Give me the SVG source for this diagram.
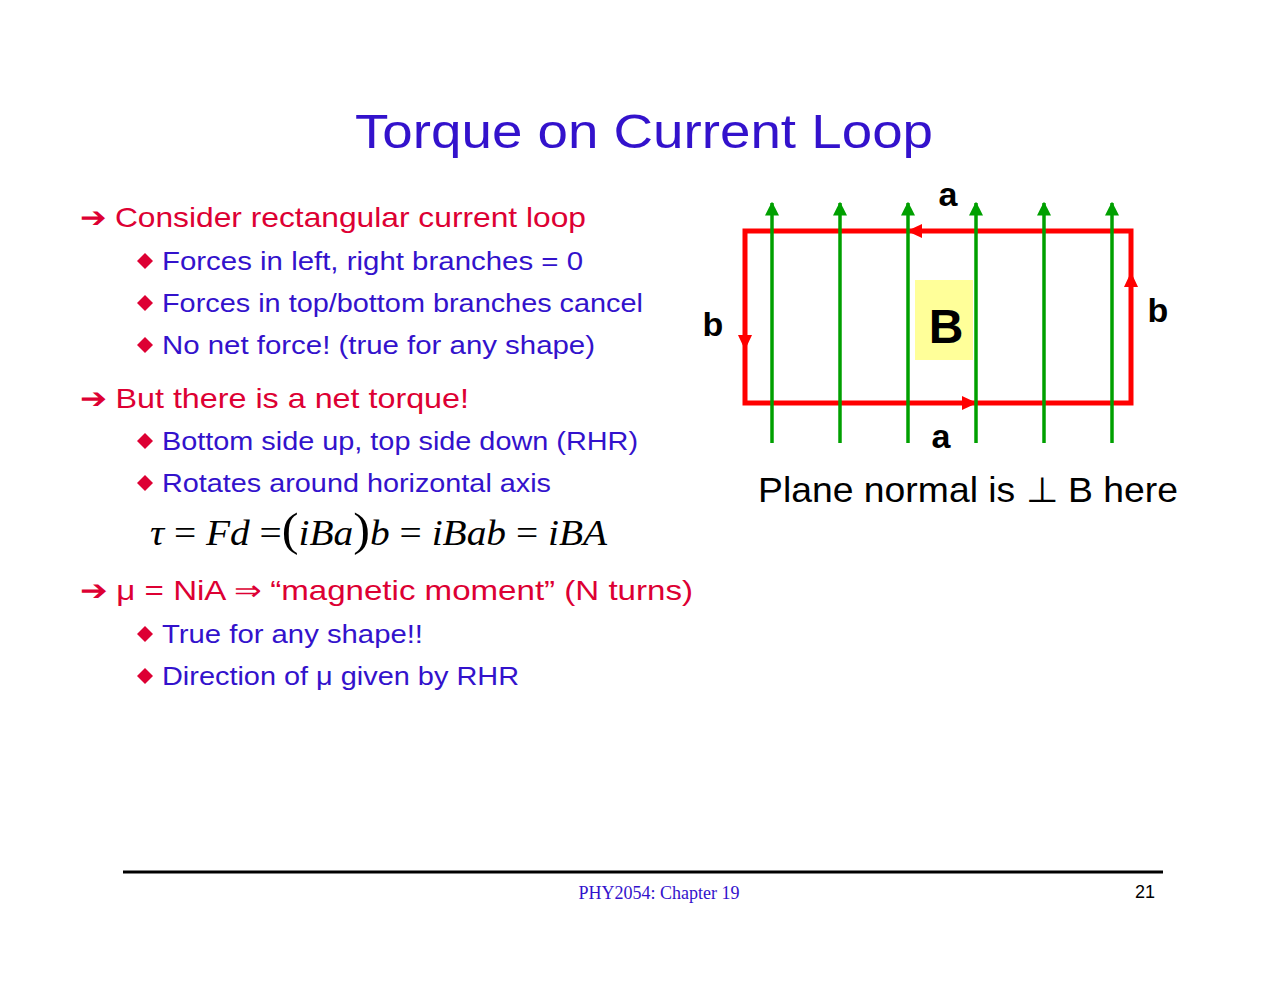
<svg xmlns="http://www.w3.org/2000/svg" width="1280" height="989" viewBox="0 0 1280 989">
<style>
text{font-family:"Liberation Sans",Arial,sans-serif}
.t{fill:#3312cc;font-size:49px}
.r{fill:#dd0033;font-size:28px}
.bl{fill:#3312cc;font-size:26px}
.dm{fill:#dd0033}
.lb{font-weight:bold;font-size:34px;fill:#000}
.g{stroke:#00a000;stroke-width:3.5;fill:none}
.eq{font-family:"Liberation Serif","Times New Roman",serif;font-style:italic;font-size:36px;fill:#000}
</style>
<defs>
<marker id="ga" viewBox="0 0 10 10" refX="9" refY="5" markerWidth="14" markerHeight="14" orient="auto" markerUnits="userSpaceOnUse"><path d="M0,0L10,5L0,10z" fill="#00a000"/></marker>
<path id="dia" d="M0,-8L8,0L0,8L-8,0z"/>
</defs>
<rect width="1280" height="989" fill="#fff"/>
<text class="t" x="355" y="148" textLength="578" lengthAdjust="spacingAndGlyphs">Torque on Current Loop</text>
<g id="text">
<text class="r" x="80" y="227" textLength="506" lengthAdjust="spacingAndGlyphs">➔ Consider rectangular current loop</text>
<use href="#dia" x="145" y="261" class="dm"/><text class="bl" x="162" y="270" textLength="421" lengthAdjust="spacingAndGlyphs">Forces in left, right branches = 0</text>
<use href="#dia" x="145" y="303" class="dm"/><text class="bl" x="162" y="312" textLength="481" lengthAdjust="spacingAndGlyphs">Forces in top/bottom branches cancel</text>
<use href="#dia" x="145" y="345" class="dm"/><text class="bl" x="162" y="354" textLength="433" lengthAdjust="spacingAndGlyphs">No net force! (true for any shape)</text>
<text class="r" x="80" y="408" textLength="389" lengthAdjust="spacingAndGlyphs">➔ But there is a net torque!</text>
<use href="#dia" x="145" y="441" class="dm"/><text class="bl" x="162" y="450" textLength="476" lengthAdjust="spacingAndGlyphs">Bottom side up, top side down (RHR)</text>
<use href="#dia" x="145" y="483" class="dm"/><text class="bl" x="162" y="492" textLength="389" lengthAdjust="spacingAndGlyphs">Rotates around horizontal axis</text>
<text class="eq" x="150" y="545" textLength="457" lengthAdjust="spacingAndGlyphs"><tspan>τ</tspan><tspan font-style="normal"> = </tspan>Fd<tspan font-style="normal"> =</tspan><tspan font-style="normal" style="font-size:46px">(</tspan>iBa<tspan font-style="normal" style="font-size:46px">)</tspan>b<tspan font-style="normal"> = </tspan>iBab<tspan font-style="normal"> = </tspan>iBA</text>
<text class="r" x="80" y="600" textLength="613" lengthAdjust="spacingAndGlyphs">➔ μ =  NiA ⇒ “magnetic moment” (N turns)</text>
<use href="#dia" x="145" y="634" class="dm"/><text class="bl" x="162" y="643" textLength="261" lengthAdjust="spacingAndGlyphs">True for any shape!!</text>
<use href="#dia" x="145" y="676" class="dm"/><text class="bl" x="162" y="685" textLength="357" lengthAdjust="spacingAndGlyphs">Direction of μ given by RHR</text>
</g>
<g id="loop">
<rect x="915" y="280" width="58" height="80" fill="#ffff99"/>
<text class="lb" x="946" y="343" text-anchor="middle" style="font-size:48px">B</text>
<rect x="745" y="231" width="386" height="172" fill="none" stroke="#ff0000" stroke-width="5"/>
<path d="M907,231L922,224L922,238z" fill="#ff0000"/>
<path d="M977,403L962,396L962,410z" fill="#ff0000"/>
<path d="M745,350L738,335L752,335z" fill="#ff0000"/>
<path d="M1131,272L1124,287L1138,287z" fill="#ff0000"/>
</g>
<g id="connectors">
<line class="g" x1="772" y1="443" x2="772" y2="203" marker-end="url(#ga)"/>
<line class="g" x1="840" y1="443" x2="840" y2="203" marker-end="url(#ga)"/>
<line class="g" x1="908" y1="443" x2="908" y2="203" marker-end="url(#ga)"/>
<line class="g" x1="976" y1="443" x2="976" y2="203" marker-end="url(#ga)"/>
<line class="g" x1="1044" y1="443" x2="1044" y2="203" marker-end="url(#ga)"/>
<line class="g" x1="1112" y1="443" x2="1112" y2="203" marker-end="url(#ga)"/>
</g>
<text class="lb" x="948" y="206" text-anchor="middle">a</text>
<text class="lb" x="941" y="448" text-anchor="middle">a</text>
<text class="lb" x="713" y="336" text-anchor="middle">b</text>
<text class="lb" x="1158" y="322" text-anchor="middle">b</text>
<text x="758" y="502" font-size="35" fill="#000" textLength="420" lengthAdjust="spacingAndGlyphs">Plane normal is ⊥ B here</text>
<line x1="123" y1="872" x2="1163" y2="872" stroke="#000" stroke-width="3"/>
<text x="659" y="899" text-anchor="middle" font-size="18" fill="#3312cc" style="font-family:'Liberation Serif',serif">PHY2054: Chapter 19</text>
<text x="1145" y="898" text-anchor="middle" font-size="18" fill="#000">21</text>
</svg>
